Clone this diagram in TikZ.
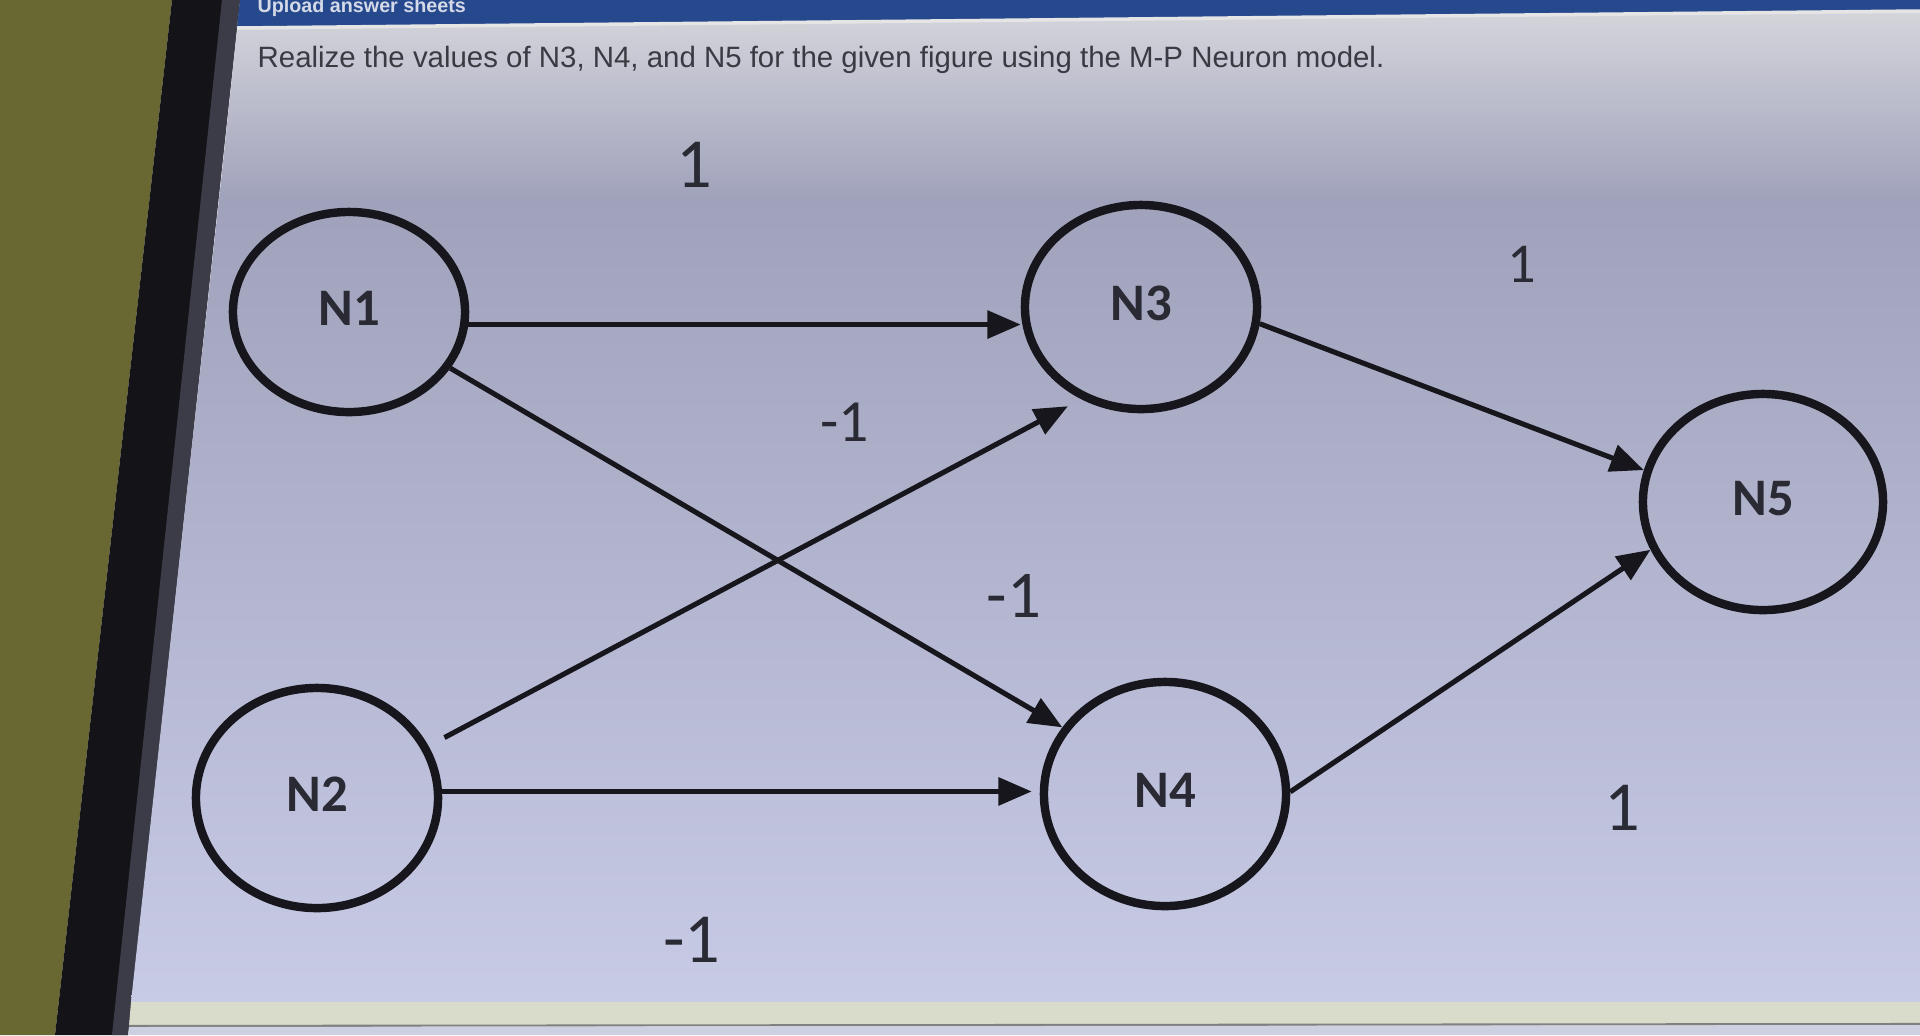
\documentclass[tikz,border=0pt]{standalone}
\usepackage{fontspec}
\setmainfont{Liberation Sans}
\newfontfamily\lblfont{Carlito}
\usetikzlibrary{arrows.meta,shapes.geometric}
\definecolor{bgolive}{HTML}{6A6832}
\definecolor{bezel}{HTML}{141418}
\definecolor{bezelgray}{HTML}{3B3C48}
\definecolor{hdrblue}{HTML}{26488C}
\definecolor{scrTop}{HTML}{D6D6DC}
\definecolor{scrMid}{HTML}{A0A2BB}
\definecolor{scrMidB}{HTML}{A9ACC6}
\definecolor{scrBot}{HTML}{C8CBE6}
\definecolor{stripcol}{HTML}{D9DCCB}
\definecolor{belowcol}{HTML}{CDD0E0}
\definecolor{inkcol}{HTML}{16161C}
\definecolor{txtcol}{HTML}{2A2A35}
\definecolor{titlecol}{HTML}{3A3A42}
\tikzset{
  neuron/.style={ellipse, draw=inkcol, line width=2.4pt, inner sep=0pt,
    font=\lblfont\bfseries\fontsize{15}{16}\selectfont, text=txtcol},
  conn/.style={draw=inkcol, line width=1.45pt, -{Triangle[length=9.5pt,width=7.8pt]}},
  wlabel/.style={font=\lblfont\fontsize{#1}{#1}\selectfont, text=txtcol, inner sep=0pt},
}
\begin{document}
\begin{tikzpicture}[x=0.01cm,y=-0.01cm]
\useasboundingbox (0,0) rectangle (1920,1035);
% surroundings
\fill[bgolive] (0,0) -- (172,0) -- (55,1035) -- (0,1035) -- cycle;
\fill[bezel] (172,0) -- (240,0) -- (128,1035) -- (55,1035) -- cycle;
\fill[bezelgray] (222,0) -- (240,0) -- (128,1035) -- (112,1035) -- cycle;
% screen
\shade[top color=scrTop, bottom color=scrMid] (238,20) -- (1920,5) -- (1920,200) -- (219,200) -- cycle;
\shade[top color=scrMid, middle color=scrMidB, bottom color=scrBot] (219,199) -- (1920,199) -- (1920,1002) -- (131,1002) -- cycle;
\fill[stripcol] (131,1002) -- (1920,1002) -- (1920,1026) -- (129,1026) -- cycle;
\draw[gray, line width=0.6pt] (129,1026) -- (1920,1024);
\fill[belowcol] (129,1027) -- (1920,1025) -- (1920,1035) -- (128,1035) -- cycle;
% header
\fill[hdrblue] (240,0) -- (1920,0) -- (1920,10) -- (237,27) -- cycle;
\draw[white!80!gray, line width=1pt] (237,28) -- (1920,11);
\node[anchor=base west, inner sep=0pt, text=white!80!hdrblue] (hdr) at (257,12)
  {\resizebox{2.08cm}{!}{\bfseries Upload answer sheets}};
\node[anchor=west, inner sep=0pt, text=titlecol] (title) at (257,60)
  {\resizebox{11.26cm}{!}{Realize the values of N3, N4, and N5 for the given figure using the M-P Neuron model.}};
% neurons
\node[neuron, minimum width=2.32cm, minimum height=2.00cm] (N1) at (349,312) {\raisebox{2pt}{N1}};
\node[neuron, minimum width=2.42cm, minimum height=2.20cm] (N2) at (317,798) {\raisebox{2pt}{N2}};
\node[neuron, minimum width=2.32cm, minimum height=2.04cm] (N3) at (1141,307) {\raisebox{2pt}{N3}};
\node[neuron, minimum width=2.42cm, minimum height=2.24cm] (N4) at (1165,794) {\raisebox{2pt}{N4}};
\node[neuron, minimum width=2.40cm, minimum height=2.16cm] (N5) at (1763,502) {\raisebox{2pt}{N5}};
% connections
\draw[conn] (N1.-6) -- (N1.-6 -| N3.west);
\draw[conn] (N1.-29) -- (N4.147);
\draw[conn, shorten <=0.18cm, shorten >=0.15cm] (N2.25) -- (N3.237);
\draw[conn, shorten >=0.08cm] (N2.3) -- (N2.3 -| N4.west);
\draw[conn] (N3.-8) -- (N5.165);
\draw[conn] (N4.1.4) -- (N5.203);
% weights
\node[wlabel=20] (w13) at (694,165) {1};
\node[wlabel=17] (w23) at (845,422) {-1};
\node[wlabel=19] (w14) at (1014,596) {-1};
\node[wlabel=16] (w35) at (1522,264) {1};
\node[wlabel=20] (w45) at (1622,808) {1};
\node[wlabel=20] (w24) at (692,940) {-1};
\end{tikzpicture}
\end{document}
